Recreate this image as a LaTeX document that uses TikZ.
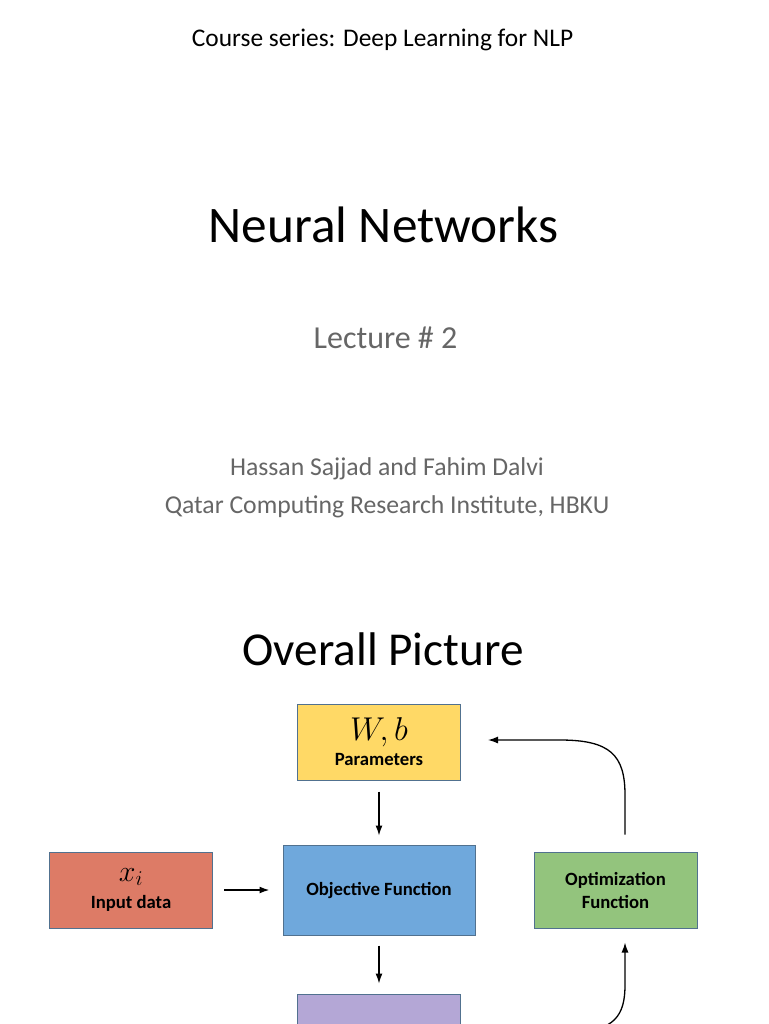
\RequirePackage{fix-cm}
\documentclass[tikz,border=0pt]{standalone}
\usepackage{fontspec}
\usepackage{amsmath}
\setmainfont{Carlito}
\usepackage{xcolor}
\usetikzlibrary{positioning, arrows.meta}
\definecolor{boxline}{HTML}{51718F}
\definecolor{subgray}{HTML}{666666}
\definecolor{paramfill}{HTML}{FFD966}
\definecolor{objfill}{HTML}{6FA8DC}
\definecolor{inputfill}{HTML}{DD7B66}
\definecolor{optfill}{HTML}{93C47D}
\definecolor{lossfill}{HTML}{B4A7D6}
\tikzset{
x=1pt, y=-1pt,
>={Latex[length=10pt,width=7pt]}, % small solid heads
box/.style={draw=boxline, line width=1pt, inner sep=0pt, align=center, font=\fontsize{18.7}{23}\selectfont\bfseries},
smallbox/.style={box, minimum width=163pt, minimum height=76pt},
conn/.style={->, line width=1.3pt, black},
slide/.style={inner sep=0pt, align=center},
}
\begin{document}
\begin{tikzpicture}
        \useasboundingbox (0,0) rectangle (768,1024);
        \fill[white] (0,0) rectangle (768,1024);

        % text of the two slides
        \node[slide, font=\fontsize{25.4}{30}\selectfont] (series) at (382.5,39.5) {Course series: Deep Learning for NLP};
        \node[slide, font=\fontsize{51.3}{56}\selectfont] (title) at (383.5,225) {Neural Networks};
        \node[slide, text=subgray, font=\fontsize{32}{38}\selectfont] (lecture) at (385.5,338) {Lecture \# 2};
        \node[slide, text=subgray, font=\fontsize{25.7}{37.5}\selectfont] (authors) at (387,488) {Hassan Sajjad and Fahim Dalvi\\Qatar Computing Research Institute, HBKU};
        \node[slide, font=\fontsize{47.2}{52}\selectfont] (overall) at (383,649) {Overall Picture};

        % boxes
        \node[smallbox, fill=paramfill] (params) at (379,742) {\fontsize{33}{30}\selectfont\mdseries$W,b$\\[2pt]Parameters};
        \node[box, fill=objfill, minimum width=192pt, minimum height=90pt] (objective) at (379,890) {Objective Function};
        \node[smallbox, fill=inputfill] (input) at (131,890) {\fontsize{30}{30}\selectfont\mdseries$x_i$\\[4pt]Input data};
        \node[smallbox, fill=optfill] (optim) at (615.5,890) {Optimization\\Function};
        \node[smallbox, fill=lossfill] (loss) at (379,1032) {};

        % connectors
        \draw[conn, shorten <=11pt, shorten >=9pt] (params) -- (objective);
        \draw[conn, shorten <=10pt, shorten >=10pt] (objective) -- (loss);
        \draw[conn, line width=1.6pt, shorten <=11pt, shorten >=13pt] (input) -- (objective);
        \draw[conn, shorten <=17pt, shorten >=27pt] ([xshift=9.5pt]optim.north) -- (625,795) .. controls (625,755) and (610,740) .. (560,740) -- ([yshift=2pt]params.east);
        \draw[conn, shorten >=14pt] (loss.east) -- (570,1032) .. controls (615,1032) and (625,1015) .. (625,985) -- ([xshift=9.5pt]optim.south);
\end{tikzpicture}
\end{document}
